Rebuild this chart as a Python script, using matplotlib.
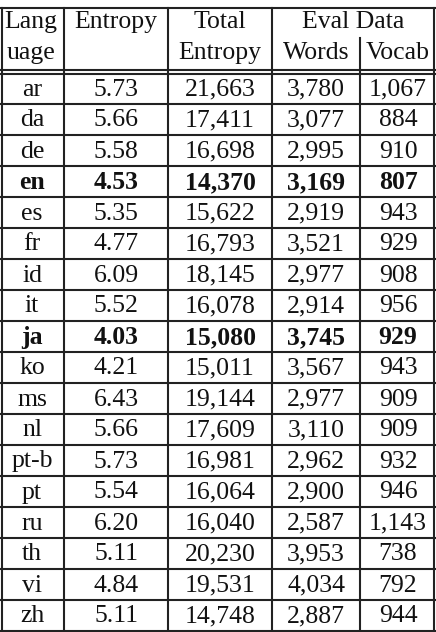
import matplotlib
matplotlib.use("Agg")
import matplotlib.pyplot as plt

langs = ["ar","da","de","en","es","fr","id","it","ja","ko","ms","nl","pt-b","pt","ru","th","vi","zh"]
entropy = ["5.73","5.66","5.58","4.53","5.35","4.77","6.09","5.52","4.03","4.21","6.43","5.66","5.73","5.54","6.20","5.11","4.84","5.11"]
total = ["21,663","17,411","16,698","14,370","15,622","16,793","18,145","16,078","15,080","15,011","19,144","17,609","16,981","16,064","16,040","20,230","19,531","14,748"]
words = ["3,780","3,077","2,995","3,169","2,919","3,521","2,977","2,914","3,745","3,567","2,977","3,110","2,962","2,900","2,587","3,953","4,034","2,887"]
vocab = ["1,067","884","910","807","943","929","908","956","929","943","909","909","932","946","1,143","738","792","944"]
bold_rows = {"en","ja"}

W, H = 436, 632
fig = plt.figure(figsize=(W/100, H/100), dpi=100)
ax = fig.add_axes([0, 0, 1, 1])
ax.set_xlim(0, W); ax.set_ylim(H, 0); ax.axis("off")
plt.rcParams['font.family'] = ['Liberation Serif', 'DejaVu Serif']
fs = 18.5
lw = 1.5
vx = [2, 64, 168, 272, 434]
kw = dict(ha="center", va="center", fontsize=fs, color="#111111")

# header
ax.text(31, 22, "Lang", **kw); ax.text(31, 53, "uage", **kw)
ax.text(116, 22, "Entropy", **kw)
ax.text(220, 22, "Total", **kw); ax.text(220, 53, "Entropy", **kw)
ax.text(353, 22, "Eval Data", **kw)
ax.text(316, 53, "Words", **kw)
ax.text(366, 53, "Vocab", ha="left", va="center", fontsize=fs, color="#111111")

top, y0, rh = 8, 73, 31
def hl(y): ax.plot([0, W], [y, y], color="#222222", lw=lw)
hl(top); hl(69.5); hl(73.5)
for i in range(1, len(langs)):
    hl(y0 + i*rh)
hl(H - 1)
for x in vx:
    ax.plot([x, x], [top, H], color="#222222", lw=lw)
ax.plot([360, 360], [38, H], color="#222222", lw=lw)

for i, l in enumerate(langs):
    y = y0 + i*rh + rh/2 + 1
    fw = "bold" if l in bold_rows else "normal"
    ax.text(32, y, l, fontweight=fw, **kw)
    ax.text(116, y, entropy[i], fontweight=fw, **kw)
    ax.text(220, y, total[i], fontweight=fw, **kw)
    ax.text(316, y, words[i], fontweight=fw, **kw)
    ax.text(398, y, vocab[i], fontweight=fw, **kw)

fig.savefig("out.png", dpi=100)
